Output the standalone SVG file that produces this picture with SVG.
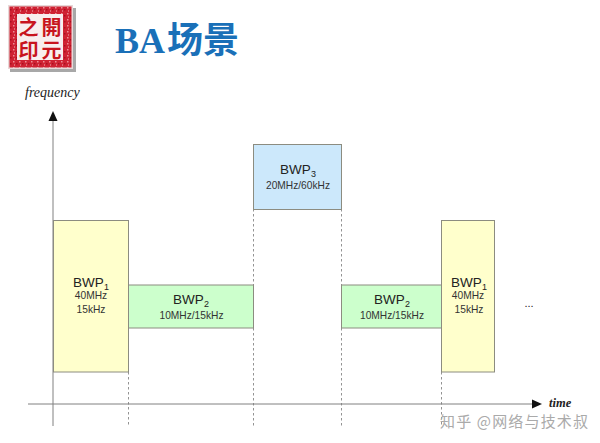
<svg xmlns="http://www.w3.org/2000/svg" width="600" height="443" viewBox="0 0 600 443">
<defs>
<pattern id="speck" width="6" height="6" patternUnits="userSpaceOnUse">
<rect width="6" height="6" fill="#cf2233"/>
<rect x="1" y="1" width="1.500" height="1.500" fill="#ee8f96"/>
<rect x="4" y="3" width="1.500" height="1.500" fill="#a8101f"/>
<rect x="2" y="4.500" width="1" height="1" fill="#f2b5b8"/>
</pattern>
</defs>
<style>
.box{stroke:#8c8c80;stroke-width:1}
.ax{stroke:#808080;stroke-width:1;fill:none}
.dash{stroke:#777;stroke-width:.8;stroke-dasharray:2.5 2.5;fill:none}
.t{font-family:"Liberation Sans",Arial,sans-serif;fill:#222;text-anchor:middle}
.b{font-size:13.5px}
.s{font-size:10.200px;fill:#333}
.i{font-family:"Liberation Serif","Times New Roman",serif;font-style:italic;font-size:14px;fill:#222}
</style>
<rect width="600" height="443" fill="#fff"/>
<g id="logo">
<rect x="10" y="8" width="66" height="64" fill="#a8a8a8"/>
<rect x="8" y="5" width="65" height="64" fill="#e8d8d8"/>
<rect x="9.500" y="6.500" width="62" height="61" fill="url(#speck)"/>
<rect x="17" y="14" width="46" height="46" fill="#f8eeee"/>
<g font-family="'Noto Sans CJK TC',sans-serif" font-weight="700" font-size="20" fill="#c8141e" text-anchor="middle">
<text x="28.500" y="35">之</text><text x="51.500" y="35">開</text><text x="28.500" y="58">印</text><text x="51.500" y="58">元</text>
</g>
</g>
<g id="title" font-weight="700" font-size="36" fill="#1a70b8">
<text x="115" y="53" font-family="'Liberation Serif',serif" font-size="36">BA</text>
<text x="167" y="53" font-family="'Noto Sans CJK SC',sans-serif">场景</text>
</g>
<text id="freq" class="i" x="25" y="97">frequency</text>
<g id="connectors">
<line class="ax" x1="53" y1="118" x2="53" y2="426"/>
<path d="M53 111l-4.500 10h9z" fill="#111"/>
<line class="ax" x1="28" y1="404" x2="535" y2="404"/>
<path d="M542 404l-10 -4.500v9z" fill="#111"/>
<line class="dash" x1="128.500" y1="372" x2="128.500" y2="426"/>
<line class="dash" x1="253.500" y1="328" x2="253.500" y2="426"/>
<line class="dash" x1="253.500" y1="209" x2="253.500" y2="285"/>
<line class="dash" x1="341.500" y1="209" x2="341.500" y2="285"/>
<line class="dash" x1="341.500" y1="328" x2="341.500" y2="426"/>
<line class="dash" x1="441.500" y1="372" x2="441.500" y2="426"/>
</g>
<g id="bwp1a"><rect class="box" x="53.500" y="220.500" width="75" height="151.500" fill="#ffffcc"/>
<text class="t b" x="91" y="287">BWP<tspan font-size="9" dy="3">1</tspan></text><text class="t s" x="91" y="299">40MHz</text><text class="t s" x="91" y="313">15kHz</text></g>
<g id="bwp2a"><rect class="box" x="128.500" y="285" width="125" height="43" fill="#ccffcc"/>
<text class="t b" x="191" y="304">BWP<tspan font-size="9" dy="3">2</tspan></text><text class="t s" x="191.500" y="319">10MHz/15kHz</text></g>
<g id="bwp3"><rect class="box" x="253.500" y="144.500" width="88" height="65" fill="#cce8fb"/>
<text class="t b" x="298" y="174">BWP<tspan font-size="9" dy="3">3</tspan></text><text class="t s" x="298" y="189">20MHz/60kHz</text></g>
<g id="bwp2b"><rect class="box" x="341.500" y="285" width="100" height="43" fill="#ccffcc"/>
<text class="t b" x="392" y="304">BWP<tspan font-size="9" dy="3">2</tspan></text><text class="t s" x="392" y="319">10MHz/15kHz</text></g>
<g id="bwp1b"><rect class="box" x="441.500" y="220.500" width="53" height="151.500" fill="#ffffcc"/>
<text class="t b" x="469" y="287">BWP<tspan font-size="9" dy="3">1</tspan></text><text class="t s" x="468" y="299">40MHz</text><text class="t s" x="469" y="313">15kHz</text></g>
<text id="dots" class="t" font-size="11" x="529" y="307">...</text>
<text id="time" class="i" x="549" y="407" font-weight="700" style="font-size:12.500px">time</text>
<text id="watermark" x="440" y="427" font-family="'Noto Sans CJK SC',sans-serif" font-size="15" textLength="148" fill="#aaa">知乎 @网络与技术叔</text>
</svg>
